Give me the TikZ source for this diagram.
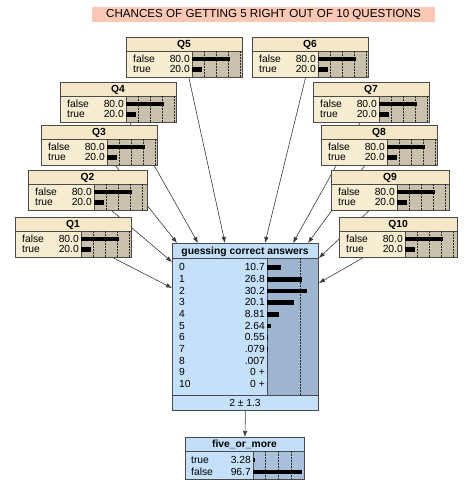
\documentclass[tikz,border=0pt]{standalone}
\usepackage{fontspec}
\setmainfont{Liberation Sans}
\usetikzlibrary{calc,arrows.meta}
\pgfdeclarelayer{edges}
\pgfsetlayers{edges,main}
\definecolor{qhead}{HTML}{F4E8C6}
\definecolor{qbody}{HTML}{F6EDD2}
\definecolor{qbar}{HTML}{C9C1AB}
\definecolor{bhead}{HTML}{C2DEF8}
\definecolor{bbody}{HTML}{C4E0FA}
\definecolor{bbar}{HTML}{9DB5CE}
\definecolor{fbar}{HTML}{A8C0D9}
\definecolor{framecol}{HTML}{4A4A4A}
\definecolor{titlepink}{HTML}{FCC8B6}
\definecolor{edgecol}{HTML}{3A3A3A}
\tikzset{
 hdrtext/.style={font=\fontsize{10.3}{12}\selectfont\bfseries, inner sep=0, anchor=base},
 lbl/.style={font=\fontsize{10.3}{12}\selectfont, inner sep=0, anchor=base west},
 val/.style={font=\fontsize{10.3}{12}\selectfont, inner sep=0, anchor=base east},
 outline/.style={draw=framecol, line width=0.9pt, inner sep=0, anchor=north west},
 sepline/.style={draw=framecol, line width=0.6pt},
 gridline/.style={draw=black!85, line width=0.5pt, dash pattern=on 1.5pt off 1.5pt},
 barfill/.style={fill=black},
 edge/.style={draw=edgecol, line width=0.6pt, -{Latex[length=6pt,width=4.5pt]}},
}
% #1 name, #2 x, #3 y, #4 label, #5 width
\newcommand\qnode[5]{%
 \begin{scope}[shift={(#2,#3)}]
  \fill[qbody] (0,0) rectangle (#5,40);
  \fill[qbar] (66,14) rectangle (#5,40);
  \fill[qhead] (0,0) rectangle (#5,14);
  \draw[sepline] (0,14) -- (#5,14);
  \draw[sepline] (66,14) -- (66,40);
  \foreach \g in {12,24,36,48} \draw[gridline] (66+\g,14) -- (66+\g,40);
  \fill[barfill] (66,19.5) rectangle (104.4,24);
  \fill[barfill] (66,30.3) rectangle (75.6,34.8);
  \node[hdrtext] (#1h) at (#5/2,10.8) {#4};
  \node[lbl] (#1fl) at (7,25) {false};
  \node[val] (#1fv) at (64,25) {80.0};
  \node[lbl] (#1tl) at (7,35.8) {true};
  \node[val] (#1tv) at (64,35.8) {20.0};
  \node[outline, minimum width=#5pt, minimum height=40pt] (#1) at (0,0) {};
 \end{scope}}
\begin{document}
\begin{tikzpicture}[x=1pt,y=-1pt]
\useasboundingbox (0,0) rectangle (474,493);
% title
\node[fill=titlepink, minimum width=343pt, minimum height=15pt, inner sep=0,
  font=\fontsize{11.6}{13}\selectfont] (title) at (263.5,14.5) {CHANCES OF GETTING 5 RIGHT OUT OF 10 QUESTIONS};
% parents
\qnode{q5}{126}{37}{Q5}{116}
\qnode{q6}{252}{37}{Q6}{116}
\qnode{q4}{60}{82}{Q4}{116}
\qnode{q7}{313}{82}{Q7}{116}
\qnode{q3}{41}{125}{Q3}{116}
\qnode{q8}{321}{125}{Q8}{116}
\qnode{q2}{28}{170}{Q2}{119}
\qnode{q9}{331}{170}{Q9}{118}
\qnode{q1}{15}{217}{Q1}{116}
\qnode{q10}{339}{217}{Q10}{118}
% main node
\begin{scope}[shift={(172,243)}]
 \fill[bbody] (0,0) rectangle (146,167);
 \fill[bbar] (95,15) rectangle (146,152);
 \fill[bhead] (0,0) rectangle (146,15);
 \draw[sepline] (0,15) -- (146,15);
 \draw[sepline] (0,152) -- (146,152);
 \draw[sepline] (95,15) -- (95,152);
 \draw[gridline] (128,15) -- (128,152);
 \node[hdrtext] (gcah) at (73,11.2) {guessing correct answers};
 \foreach \i/\v/\w in {0/10.7/14.1, 1/26.8/35.4, 2/30.2/39.9, 3/20.1/26.5, 4/8.81/11.6, 5/2.64/3.5, 6/0.55/0.8, 7/.079/0.15, 8/.007/0, 9/0 +/0, 10/0 +/0}{
   \fill[barfill] (95,24.5+11.7*\i-2.4) rectangle (95+\w,24.5+11.7*\i+2.4);
   \node[lbl] (gcal\i) at (7,27.6+11.7*\i) {\i};
   \node[val] (gcav\i) at (93,27.6+11.7*\i) {\v};
 }
 \node[lbl, anchor=base] (gcaf) at (73,163.3) {2 ± 1.3};
 \node[outline, minimum width=146pt, minimum height=167pt] (gca) at (0,0) {};
\end{scope}
% five_or_more
\begin{scope}[shift={(185,437)}]
 \fill[bbody] (0,0) rectangle (119,42);
 \fill[fbar] (68,14) rectangle (119,42);
 \fill[bhead] (0,0) rectangle (119,14);
 \draw[sepline] (0,14) -- (119,14);
 \draw[sepline] (68,14) -- (68,42);
 \foreach \g in {12.7,25.3,38} \draw[gridline] (68+\g,14) -- (68+\g,42);
 \fill[barfill] (68,20.7) rectangle (69.7,25.3);
 \fill[barfill] (68,32.5) rectangle (116.8,37.3);
 \node[hdrtext] (fiveh) at (59.5,10.8) {five\_or\_more};
 \node[lbl] (fivetl) at (6,26.5) {true};
 \node[val] (fivetv) at (66,26.5) {3.28};
 \node[lbl] (fivefl) at (6,38.2) {false};
 \node[val] (fivefv) at (66,38.2) {96.7};
 \node[outline, minimum width=119pt, minimum height=42pt] (five) at (0,0) {};
\end{scope}
% connectors
\begin{pgfonlayer}{edges}
 \draw[edge] (q1.center) -- ($(gca.north west)+(0,45)$);
 \draw[edge] (q2.center) -- ($(gca.north west)+(0,19)$);
 \draw[edge] (q3.center) -- ($(gca.north west)+(5,0)$);
 \draw[edge] (q4.center) -- ($(gca.north west)+(26,0)$);
 \draw[edge] (q5.center) -- ($(gca.north west)+(53,0)$);
 \draw[edge] (q6.center) -- ($(gca.north west)+(93,0)$);
 \draw[edge] (q7.center) -- ($(gca.north west)+(121,0)$);
 \draw[edge] (q8.center) -- ($(gca.north west)+(136,0)$);
 \draw[edge] (q9.center) -- ($(gca.north east)+(0,15)$);
 \draw[edge] (q10.center) -- ($(gca.north east)+(0,40)$);
 \draw[edge] (gca.south) -- (five.north);
\end{pgfonlayer}
\end{tikzpicture}
\end{document}
